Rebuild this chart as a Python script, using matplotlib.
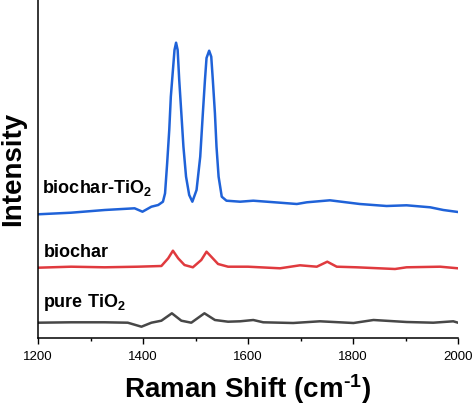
import matplotlib
matplotlib.use("Agg")
import matplotlib.pyplot as plt
from matplotlib.ticker import MultipleLocator

plt.rcParams["font.family"] = ["Liberation Sans", "DejaVu Sans"]
plt.rcParams["mathtext.fontset"] = "custom"
plt.rcParams["mathtext.rm"] = "Liberation Sans:bold"
plt.rcParams["mathtext.bf"] = "Liberation Sans:bold"
plt.rcParams["mathtext.default"] = "bf"

# Raman spectra (arbitrary intensity units, already offset)
composite_shift = [1200, 1263, 1327, 1384, 1399, 1416, 1429, 1438, 1442, 1446,
                   1450, 1453, 1457, 1460, 1463, 1466, 1469, 1473, 1477, 1482,
                   1488, 1494, 1502, 1509, 1514, 1518, 1521, 1526, 1530, 1533,
                   1537, 1540, 1544, 1550, 1559, 1585, 1610, 1661, 1693, 1712,
                   1756, 1813, 1864, 1902, 1947, 1972, 2000]
composite_int = [123.7, 125.3, 128.0, 129.7, 126.3, 131.3, 133.0, 136.3, 144.7, 174.7,
                 208.0, 241.3, 268.0, 288.0, 295.3, 288.0, 258.0, 225.0, 191.3, 161.3,
                 143.0, 136.3, 148.0, 181.3, 224.7, 258.0, 280.0, 287.3, 281.3, 258.0,
                 224.7, 191.3, 161.3, 141.3, 137.3, 136.3, 137.3, 135.3, 134.0, 135.7,
                 137.7, 134.0, 132.0, 132.7, 130.7, 128.0, 126.0]

biochar_shift = [1200, 1263, 1327, 1390, 1435, 1448, 1457, 1467, 1479, 1495,
                 1511, 1521, 1530, 1543, 1562, 1600, 1623, 1661, 1699, 1731,
                 1751, 1769, 1807, 1880, 1902, 1966, 2000]
biochar_int = [70.3, 71.3, 70.7, 71.3, 72.0, 79.7, 87.3, 79.7, 73.0, 70.7,
               78.0, 86.3, 81.3, 74.0, 71.3, 71.3, 70.7, 69.7, 72.7, 71.3,
               76.3, 71.3, 70.7, 69.0, 70.7, 71.3, 69.7]

tio2_shift = [1200, 1263, 1327, 1371, 1397, 1416, 1435, 1455, 1473, 1492,
              1517, 1537, 1562, 1585, 1610, 1629, 1686, 1737, 1801, 1839,
              1902, 1953, 1991, 2000]
tio2_int = [15.3, 15.7, 15.7, 15.3, 11.3, 15.3, 17.3, 24.7, 17.3, 15.3,
            24.7, 18.0, 16.3, 16.7, 18.0, 15.7, 15.0, 16.7, 15.0, 18.0,
            16.0, 15.3, 16.7, 15.3]

labels = ["biochar-TiO$_2$", "biochar", "pure TiO$_2$"]
label_pos = [(1208, 145.3), (1211, 81.3), (1209, 31.3)]

fig = plt.figure(figsize=(4.74, 4.08), dpi=100)
ax = fig.add_axes([38 / 474, 70 / 408, 420 / 474, 338 / 408])

ax.plot(composite_shift, composite_int, color="#1f62d8", lw=1.8)
ax.plot(biochar_shift, biochar_int, color="#e03a3e", lw=1.8)
ax.plot(tio2_shift, tio2_int, color="#474747", lw=1.8)

for text, (x, y) in zip(labels, label_pos):
    ax.text(x, y, text, fontsize=13, fontweight="bold", ha="left", va="baseline")

ax.set_xlim(1200, 2000)
ax.set_ylim(0, 338)
ax.xaxis.set_major_locator(MultipleLocator(200))
ax.xaxis.set_minor_locator(MultipleLocator(100))
ax.tick_params(axis="x", which="major", direction="out", length=4.3, width=1.0,
               labelsize=9.5, pad=5)
ax.tick_params(axis="x", which="minor", direction="out", length=2.5, width=1.0)
ax.set_yticks([])
for side in ("top", "right"):
    ax.spines[side].set_visible(False)
for side in ("left", "bottom"):
    ax.spines[side].set_linewidth(1.1)

fig.text(0.0, 0.586, "Intensity", rotation=90, fontsize=20, fontweight="bold",
         ha="left", va="center")
fig.text(0.523, 0.005, "Raman Shift (cm$^{\\text{-}1}$)", fontsize=20,
         fontweight="bold", ha="center", va="bottom")

fig.savefig("out.png", dpi=100)
